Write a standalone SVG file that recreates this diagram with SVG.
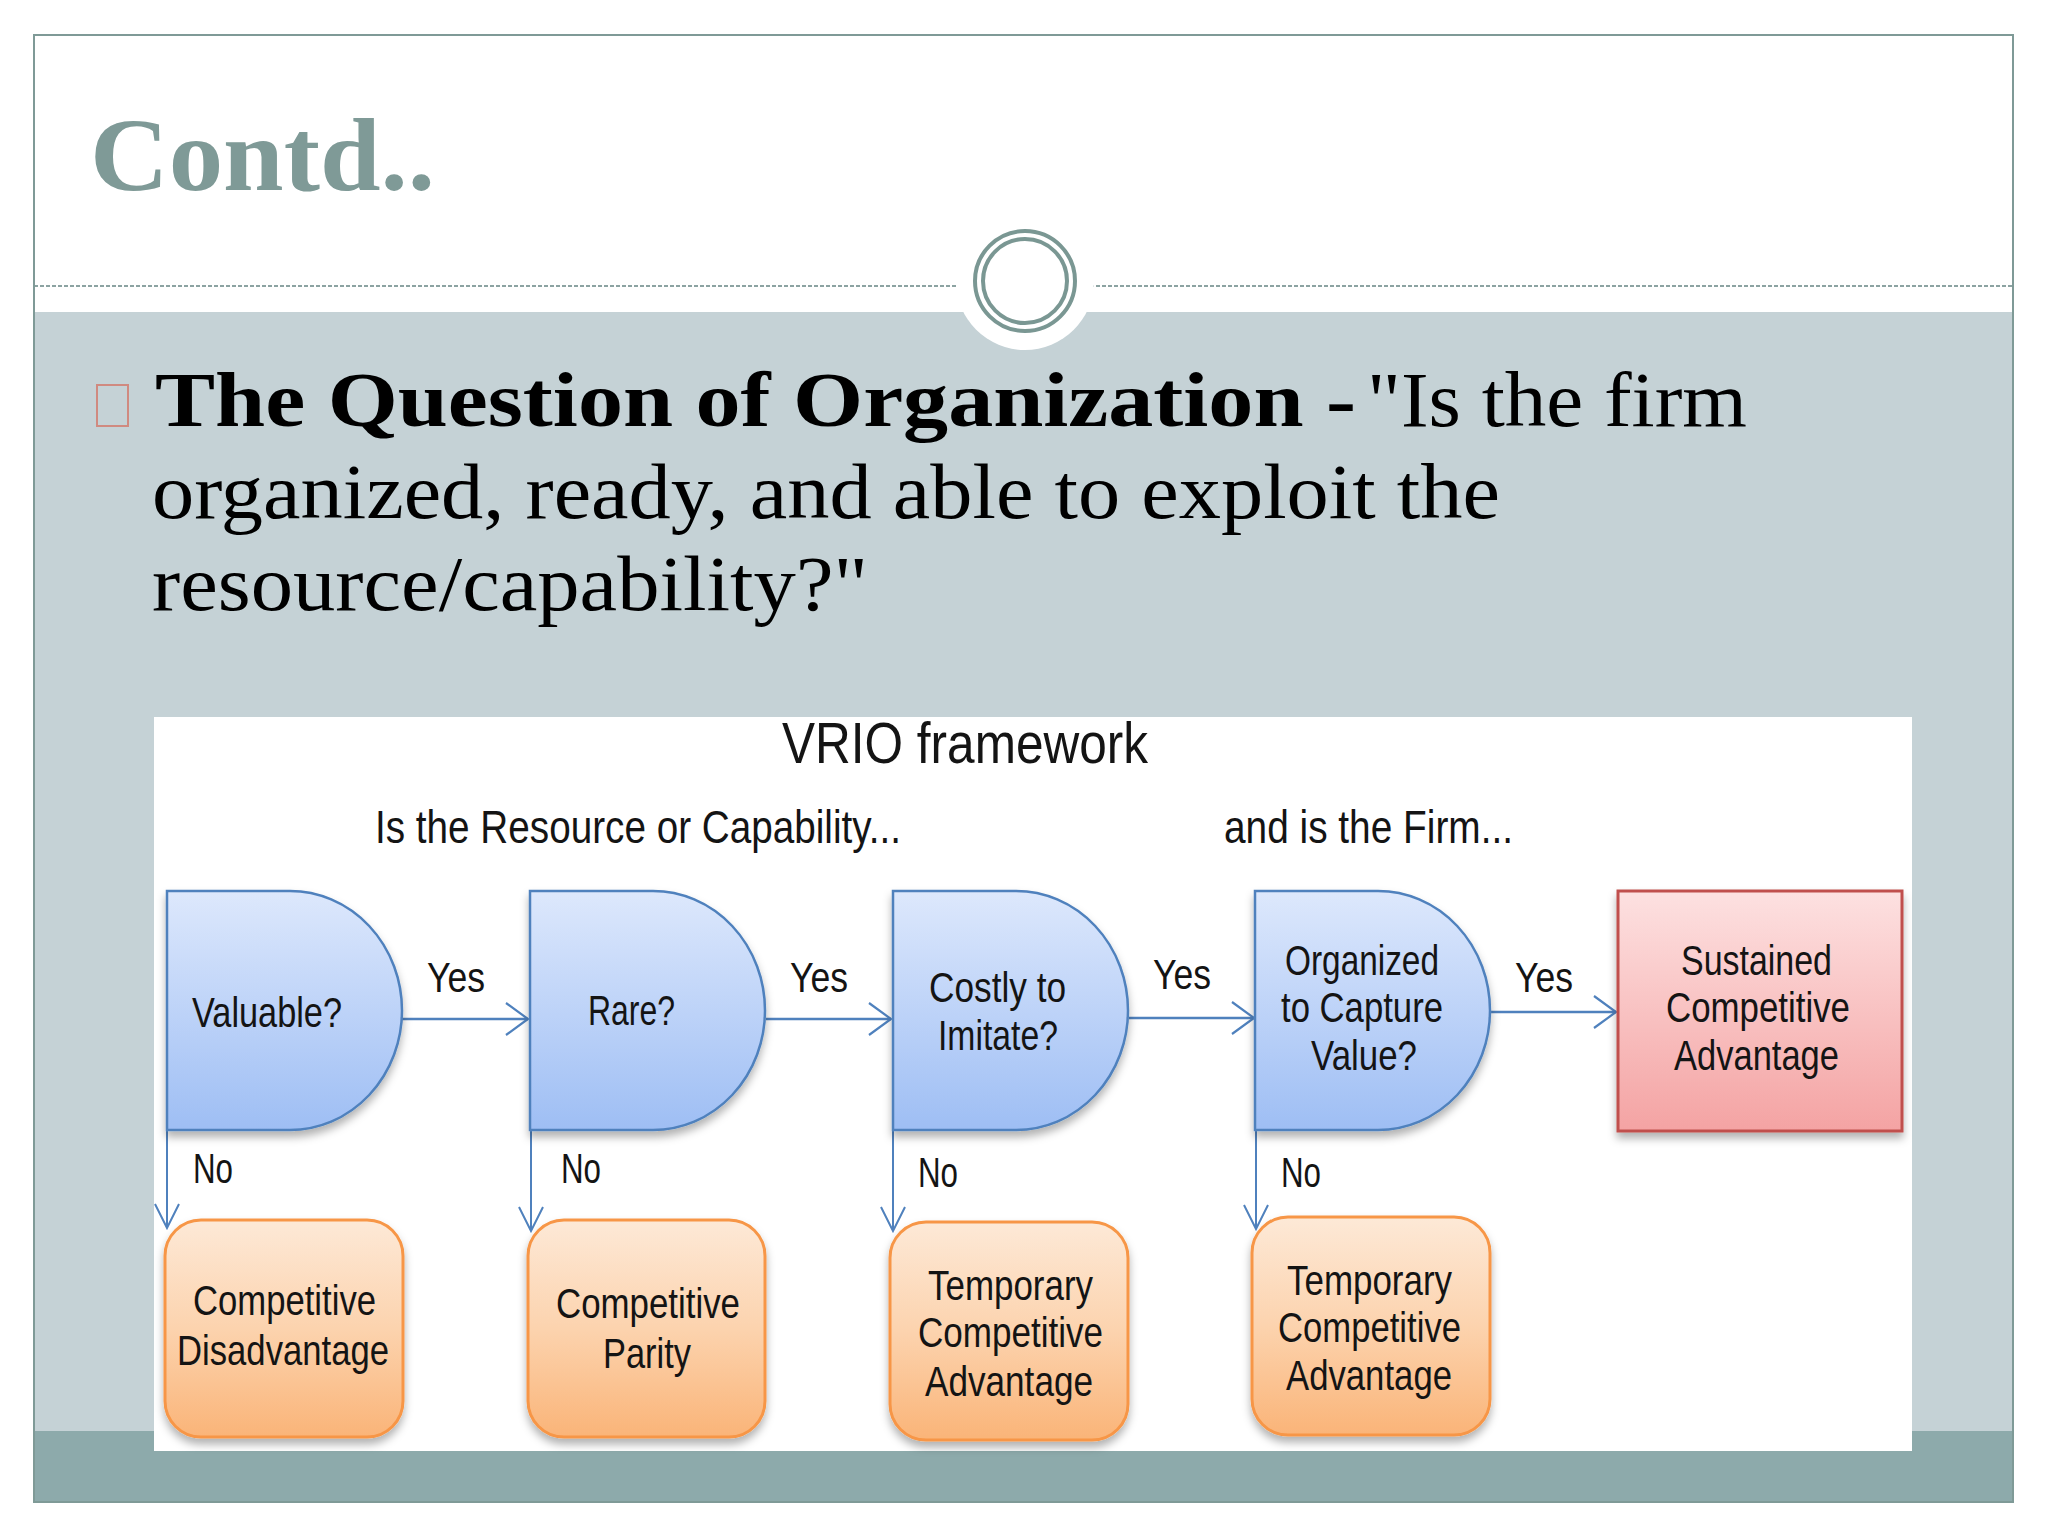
<svg xmlns="http://www.w3.org/2000/svg" width="2048" height="1536" viewBox="0 0 2048 1536">
<defs>
<linearGradient id="gBlue" x1="0" y1="0" x2="0" y2="1">
<stop offset="0" stop-color="#DDE8FC"/>
<stop offset="1" stop-color="#9EBEF4"/>
</linearGradient>
<linearGradient id="gOrange" x1="0" y1="0" x2="0" y2="1">
<stop offset="0" stop-color="#FDE9D7"/>
<stop offset="0.5" stop-color="#FCD3AE"/>
<stop offset="1" stop-color="#FAB478"/>
</linearGradient>
<linearGradient id="gRed" x1="0" y1="0" x2="0" y2="1">
<stop offset="0" stop-color="#FDE1E1"/>
<stop offset="1" stop-color="#F4A3A3"/>
</linearGradient>
<filter id="shadow" x="-10%" y="-10%" width="120%" height="130%">
<feDropShadow dx="0" dy="6" stdDeviation="4" flood-color="#000" flood-opacity="0.3"/>
</filter>
<marker id="arrH" viewBox="0 0 28 36" refX="26" refY="18" markerWidth="28" markerHeight="36" markerUnits="userSpaceOnUse" orient="auto">
<path d="M4,2 L26,18 L4,34" fill="none" stroke="#4F81BD" stroke-width="2.2"/>
</marker>
<marker id="arrV" viewBox="0 0 28 28" refX="26" refY="14" markerWidth="28" markerHeight="28" markerUnits="userSpaceOnUse" orient="auto">
<path d="M2,2 L26,14 L2,26" fill="none" stroke="#4F81BD" stroke-width="2"/>
</marker>
<style>
.diag{font-family:"Liberation Sans",Arial,sans-serif;fill:#141414;}
.t42{font-size:42px;}
.t46{font-size:46px;}
.blue{fill:url(#gBlue);stroke:#4F81BD;stroke-width:2.5;filter:url(#shadow);}
.orange{fill:url(#gOrange);stroke:#F79646;stroke-width:3;filter:url(#shadow);}
.red{fill:url(#gRed);stroke:#C0504D;stroke-width:3;filter:url(#shadow);}
.conn{fill:none;stroke:#4F81BD;}
.serif{font-family:"Liberation Serif","Times New Roman",serif;fill:#000;font-size:78px;}
</style>
</defs>

<!-- slide background -->
<rect x="0" y="0" width="2048" height="1536" fill="#FFFFFF"/>
<rect x="34" y="312" width="1979" height="1119" fill="#C5D2D6"/>
<rect x="34" y="1431" width="1979" height="71" fill="#8DAAAB"/>
<line x1="34" y1="286" x2="2013" y2="286" stroke="#8CA3A2" stroke-width="2" stroke-dasharray="4,2"/>
<rect x="34" y="35" width="1979" height="1467" fill="none" stroke="#7F9A97" stroke-width="2"/>
<circle cx="1025" cy="281" r="69" fill="#FFFFFF"/>
<circle cx="1025" cy="281" r="50" fill="none" stroke="#7A9793" stroke-width="4"/>
<circle cx="1025" cy="281" r="42" fill="none" stroke="#7A9793" stroke-width="4"/>

<text x="90" y="190" font-family="'Liberation Serif','Times New Roman',serif" font-weight="bold" font-size="104" fill="#7F9A97" textLength="345" lengthAdjust="spacingAndGlyphs">Contd..</text>

<rect x="97" y="385" width="31" height="41" fill="none" stroke="#D08A80" stroke-width="2"/>
<text class="serif" x="155" y="426" font-weight="bold" textLength="1201" lengthAdjust="spacingAndGlyphs">The Question of Organization -</text>
<text class="serif" x="1367" y="426" textLength="380" lengthAdjust="spacingAndGlyphs">"Is the firm</text>
<text class="serif" x="152" y="518" textLength="1348" lengthAdjust="spacingAndGlyphs">organized, ready, and able to exploit the</text>
<text class="serif" x="152" y="610" textLength="716" lengthAdjust="spacingAndGlyphs">resource/capability?"</text>

<!-- diagram image area -->
<rect x="154" y="717" width="1758" height="734" fill="#FFFFFF"/>
<text class="diag" x="782" y="763" font-size="57" textLength="366" lengthAdjust="spacingAndGlyphs">VRIO framework</text>
<text class="diag t46" x="375" y="843" textLength="526" lengthAdjust="spacingAndGlyphs">Is the Resource or Capability...</text>
<text class="diag t46" x="1224" y="843" textLength="289" lengthAdjust="spacingAndGlyphs">and is the Firm...</text>

<g id="connectors">
<path class="conn" stroke-width="2.5" d="M402,1019 H528" marker-end="url(#arrH)"/>
<path class="conn" stroke-width="2.5" d="M766,1019 H891" marker-end="url(#arrH)"/>
<path class="conn" stroke-width="2.5" d="M1129,1018 H1254" marker-end="url(#arrH)"/>
<path class="conn" stroke-width="2.5" d="M1490,1012 H1616" marker-end="url(#arrH)"/>
<path class="conn" stroke-width="2" d="M167,1130 V1228" marker-end="url(#arrV)"/>
<path class="conn" stroke-width="2" d="M531,1130 V1231" marker-end="url(#arrV)"/>
<path class="conn" stroke-width="2" d="M893,1130 V1231" marker-end="url(#arrV)"/>
<path class="conn" stroke-width="2" d="M1256,1130 V1229" marker-end="url(#arrV)"/>
<text class="diag t42" x="427" y="992" textLength="58" lengthAdjust="spacingAndGlyphs">Yes</text>
<text class="diag t42" x="790" y="992" textLength="58" lengthAdjust="spacingAndGlyphs">Yes</text>
<text class="diag t42" x="1153" y="989" textLength="58" lengthAdjust="spacingAndGlyphs">Yes</text>
<text class="diag t42" x="1515" y="992" textLength="58" lengthAdjust="spacingAndGlyphs">Yes</text>
<text class="diag t42" x="193" y="1183" textLength="40" lengthAdjust="spacingAndGlyphs">No</text>
<text class="diag t42" x="561" y="1183" textLength="40" lengthAdjust="spacingAndGlyphs">No</text>
<text class="diag t42" x="918" y="1187" textLength="40" lengthAdjust="spacingAndGlyphs">No</text>
<text class="diag t42" x="1281" y="1187" textLength="40" lengthAdjust="spacingAndGlyphs">No</text>
</g>

<g id="valuable">
<path class="blue" d="M167,891 H290 A112,119.5 0 0 1 290,1130 H167 Z"/>
<text class="diag t42" x="192" y="1027" textLength="150" lengthAdjust="spacingAndGlyphs">Valuable?</text>
</g>
<g id="rare">
<path class="blue" d="M530,891 H653 A112,119.5 0 0 1 653,1130 H530 Z"/>
<text class="diag t42" x="588" y="1025" textLength="87" lengthAdjust="spacingAndGlyphs">Rare?</text>
</g>
<g id="costly">
<path class="blue" d="M893,891 H1016 A112,119.5 0 0 1 1016,1130 H893 Z"/>
<text class="diag t42" x="929" y="1002" textLength="137" lengthAdjust="spacingAndGlyphs">Costly to</text>
<text class="diag t42" x="938" y="1050" textLength="120" lengthAdjust="spacingAndGlyphs">Imitate?</text>
</g>
<g id="organized">
<path class="blue" d="M1255,891 H1378 A112,119.5 0 0 1 1378,1130 H1255 Z"/>
<text class="diag t42" x="1285" y="975" textLength="154" lengthAdjust="spacingAndGlyphs">Organized</text>
<text class="diag t42" x="1281" y="1022" textLength="162" lengthAdjust="spacingAndGlyphs">to Capture</text>
<text class="diag t42" x="1311" y="1070" textLength="106" lengthAdjust="spacingAndGlyphs">Value?</text>
</g>
<g id="sustained">
<rect class="red" x="1618" y="891" width="284" height="240"/>
<text class="diag t42" x="1681" y="975" textLength="151" lengthAdjust="spacingAndGlyphs">Sustained</text>
<text class="diag t42" x="1666" y="1022" textLength="184" lengthAdjust="spacingAndGlyphs">Competitive</text>
<text class="diag t42" x="1674" y="1070" textLength="165" lengthAdjust="spacingAndGlyphs">Advantage</text>
</g>

<g id="disadvantage">
<rect class="orange" x="165" y="1220" width="238" height="217" rx="36" ry="36"/>
<text class="diag t42" x="193" y="1315" textLength="183" lengthAdjust="spacingAndGlyphs">Competitive</text>
<text class="diag t42" x="177" y="1365" textLength="212" lengthAdjust="spacingAndGlyphs">Disadvantage</text>
</g>
<g id="parity">
<rect class="orange" x="528" y="1220" width="237" height="217" rx="36" ry="36"/>
<text class="diag t42" x="556" y="1318" textLength="184" lengthAdjust="spacingAndGlyphs">Competitive</text>
<text class="diag t42" x="603" y="1368" textLength="88" lengthAdjust="spacingAndGlyphs">Parity</text>
</g>
<g id="temporary1">
<rect class="orange" x="890" y="1222" width="238" height="218" rx="36" ry="36"/>
<text class="diag t42" x="928" y="1300" textLength="165" lengthAdjust="spacingAndGlyphs">Temporary</text>
<text class="diag t42" x="918" y="1347" textLength="185" lengthAdjust="spacingAndGlyphs">Competitive</text>
<text class="diag t42" x="925" y="1396" textLength="168" lengthAdjust="spacingAndGlyphs">Advantage</text>
</g>
<g id="temporary2">
<rect class="orange" x="1252" y="1217" width="238" height="218" rx="36" ry="36"/>
<text class="diag t42" x="1287" y="1295" textLength="165" lengthAdjust="spacingAndGlyphs">Temporary</text>
<text class="diag t42" x="1278" y="1342" textLength="183" lengthAdjust="spacingAndGlyphs">Competitive</text>
<text class="diag t42" x="1286" y="1390" textLength="166" lengthAdjust="spacingAndGlyphs">Advantage</text>
</g>
</svg>
